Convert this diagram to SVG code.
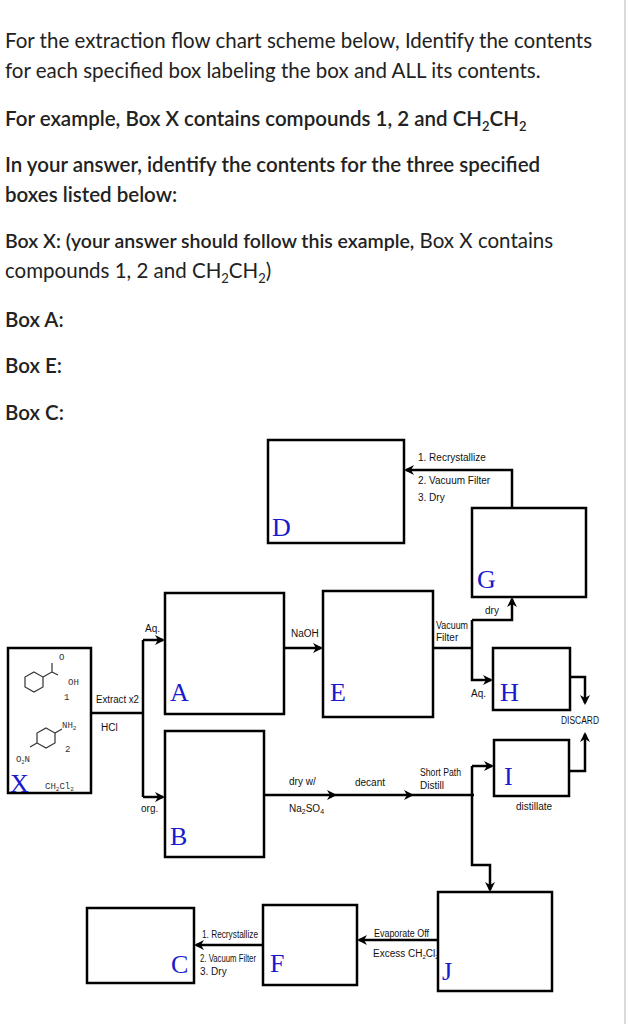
<svg xmlns="http://www.w3.org/2000/svg" width="628" height="1024" viewBox="0 0 628 1024">
<style>
.q{font-family:Lato,"Open Sans",sans-serif;font-size:20.5px;fill:#222}
.b{font-weight:600}
.bx{fill:#fff;stroke:#000;stroke-width:2.5}
.lt{font-family:"Liberation Serif",serif;font-size:26px;fill:#1a1acc}
.s{font-family:"Liberation Sans Narrow","Liberation Sans",sans-serif;font-size:10px;fill:#111}
.m{font-family:"Liberation Mono",monospace;font-size:9px;fill:#333}
.c{fill:none;stroke:#000;stroke-width:2.5}
.ch{fill:none;stroke:#333;stroke-width:1.2}
</style>
<defs><marker id="ar" viewBox="0 0 10 10" refX="8" refY="5" markerWidth="4" markerHeight="4" orient="auto"><path d="M0,0 L10,5 L0,10 L3,5 z" fill="#000"/></marker></defs>
<rect width="628" height="1024" fill="#fff"/>
<line x1="625" y1="0" x2="625" y2="1024" stroke="#ccc" stroke-width="1.5"/>
<text class="q" x="5" y="48">For the extraction flow chart scheme below, Identify the contents</text>
<text class="q" x="5" y="78">for each specified box labeling the box and ALL its contents.</text>
<text class="q b" x="5" y="126" font-size="19.5">For example, Box X contains compounds 1, 2 and CH<tspan font-size="13" dy="5">2</tspan><tspan dy="-5">CH</tspan><tspan font-size="13" dy="5">2</tspan></text>
<text class="q b" x="5" y="172" font-size="19.5">In your answer, identify the contents for the three specified</text>
<text class="q b" x="5" y="202" font-size="19.5">boxes listed below:</text>
<text class="q" x="5" y="248"><tspan class="b" font-size="19.5">Box X: (your answer should follow this example,</tspan> Box X contains</text>
<text class="q" x="5" y="278">compounds 1, 2 and CH<tspan font-size="13" dy="5">2</tspan><tspan dy="-5">CH</tspan><tspan font-size="13" dy="5">2</tspan><tspan dy="-5">)</tspan></text>
<text class="q b" x="5" y="327" font-size="19.5">Box A:</text>
<text class="q b" x="5" y="373" font-size="19.5">Box E:</text>
<text class="q b" x="5" y="420" font-size="19.5">Box C:</text>

<g id="connectors">
<path class="c" d="M91,713 H143 M143,640 V797"/>
<path class="c" d="M143,640 H163" marker-end="url(#ar)"/>
<path class="c" d="M143,797 H163" marker-end="url(#ar)"/>
<path class="c" d="M284,648 H321" marker-end="url(#ar)"/>
<path class="c" d="M264,795 H335" marker-end="url(#ar)"/>
<path class="c" d="M335,795 H412" marker-end="url(#ar)"/>
<path class="c" d="M412,795 H474"/>
<path class="c" d="M472,766 V865 H490 V890" marker-end="url(#ar)"/>
<path class="c" d="M472,766 H492" marker-end="url(#ar)"/>
<path class="c" d="M433,648 H472"/>
<path class="c" d="M472,620 V680 H491" marker-end="url(#ar)"/>
<path class="c" d="M472,620 H512 V599" marker-end="url(#ar)"/>
<path class="c" d="M512,508 V470 H406" marker-end="url(#ar)"/>
<path class="c" d="M570,677 H585 V703" marker-end="url(#ar)"/>
<path class="c" d="M569,771 H585 V734" marker-end="url(#ar)"/>
<path class="c" d="M438,940 H359" marker-end="url(#ar)"/>
<path class="c" d="M263,945 H196" marker-end="url(#ar)"/>
</g>

<g id="X"><rect class="bx" x="8" y="648" width="83" height="145"/>
<polygon class="ch" points="34,672 43,677 43,687 34,692 25,687 25,677"/>
<path class="ch" d="M43,677 L52,672 V663 M52,672 L58,675"/>
<text class="m" x="59" y="660" font-size="7">O</text><text class="m" x="68" y="685" font-size="8">OH</text><text class="m" x="64" y="700">1</text>
<polygon class="ch" points="46,728 55,733 55,743 46,748 37,743 37,733"/>
<path class="ch" d="M55,733 L62,729 M37,743 L30,747"/>
<text class="m" x="62" y="728" font-size="8">NH<tspan font-size="6" dy="2">2</tspan></text><text class="m" x="65" y="752">2</text>
<text class="m" x="16" y="762" font-size="7">O<tspan font-size="5" dy="2">2</tspan><tspan dy="-2">N</tspan></text>
<text class="m" x="45" y="789" font-size="8">CH<tspan font-size="6" dy="2">2</tspan><tspan dy="-2">Cl</tspan><tspan font-size="6" dy="2">2</tspan></text>
<text class="lt" x="10" y="792" font-size="28">X</text></g>
<g id="A"><rect class="bx" x="165" y="593" width="119" height="121"/><text class="lt" x="170" y="701">A</text></g>
<g id="B"><rect class="bx" x="165" y="731" width="99" height="126"/><text class="lt" x="170" y="845">B</text></g>
<g id="D"><rect class="bx" x="268" y="440" width="136" height="103"/><text class="lt" x="272" y="536">D</text></g>
<g id="E"><rect class="bx" x="323" y="591" width="110" height="126"/><text class="lt" x="330" y="701">E</text></g>
<g id="G"><rect class="bx" x="472" y="508" width="114" height="89"/><text class="lt" x="477" y="588">G</text></g>
<g id="H"><rect class="bx" x="493" y="648" width="77" height="62"/><text class="lt" x="500" y="701">H</text></g>
<g id="I"><rect class="bx" x="494" y="740" width="75" height="56"/><text class="lt" x="504" y="785">I</text></g>
<g id="J"><rect class="bx" x="438" y="892" width="114" height="99"/><text class="lt" x="442" y="980">J</text></g>
<g id="F"><rect class="bx" x="263" y="905" width="94" height="80"/><text class="lt" x="270" y="972">F</text></g>
<g id="C"><rect class="bx" x="87" y="908" width="107" height="75"/><text class="lt" x="171" y="973">C</text></g>

<g id="labels">
<text class="s" x="96" y="703" textLength="43" lengthAdjust="spacingAndGlyphs">Extract x2</text><text class="s" x="101" y="731" font-size="11">HCl</text>
<text class="s" x="145" y="632" font-size="9">Aq.</text><text class="s" x="141" y="812" font-size="9">org.</text>
<text class="s" x="291" y="637">NaOH</text>
<text class="s" x="289" y="785">dry w/</text><text class="s" x="289" y="812">Na<tspan font-size="7" dy="2">2</tspan><tspan dy="-2">SO</tspan><tspan font-size="7" dy="2">4</tspan></text>
<text class="s" x="355" y="786">decant</text>
<text class="s" x="420" y="776" textLength="41" lengthAdjust="spacingAndGlyphs">Short Path</text><text class="s" x="420" y="789">Distill</text>
<text class="s" x="436" y="629" textLength="32" lengthAdjust="spacingAndGlyphs">Vacuum</text><text class="s" x="436" y="641">Filter</text>
<text class="s" x="485" y="614">dry</text><text class="s" x="471" y="697" font-size="9">Aq.</text>
<text class="s" x="561" y="724" font-size="9" textLength="38" lengthAdjust="spacingAndGlyphs">DISCARD</text><text class="s" x="516" y="810">distillate</text>
<text class="s" x="418" y="461">1. Recrystallize</text><text class="s" x="418" y="484">2. Vacuum Filter</text><text class="s" x="418" y="501">3. Dry</text>
<text class="s" x="374" y="937" textLength="55" lengthAdjust="spacingAndGlyphs">Evaporate Off</text><text class="s" x="373" y="957" font-size="9">Excess CH<tspan font-size="6" dy="2">2</tspan><tspan dy="-2">Cl</tspan><tspan font-size="6" dy="2">2</tspan></text>
<text class="s" x="202" y="938" textLength="56" lengthAdjust="spacingAndGlyphs">1. Recrystallize</text><text class="s" x="200" y="962" textLength="56" lengthAdjust="spacingAndGlyphs">2. Vacuum Filter</text><text class="s" x="200" y="975">3. Dry</text>
</g>
</svg>
